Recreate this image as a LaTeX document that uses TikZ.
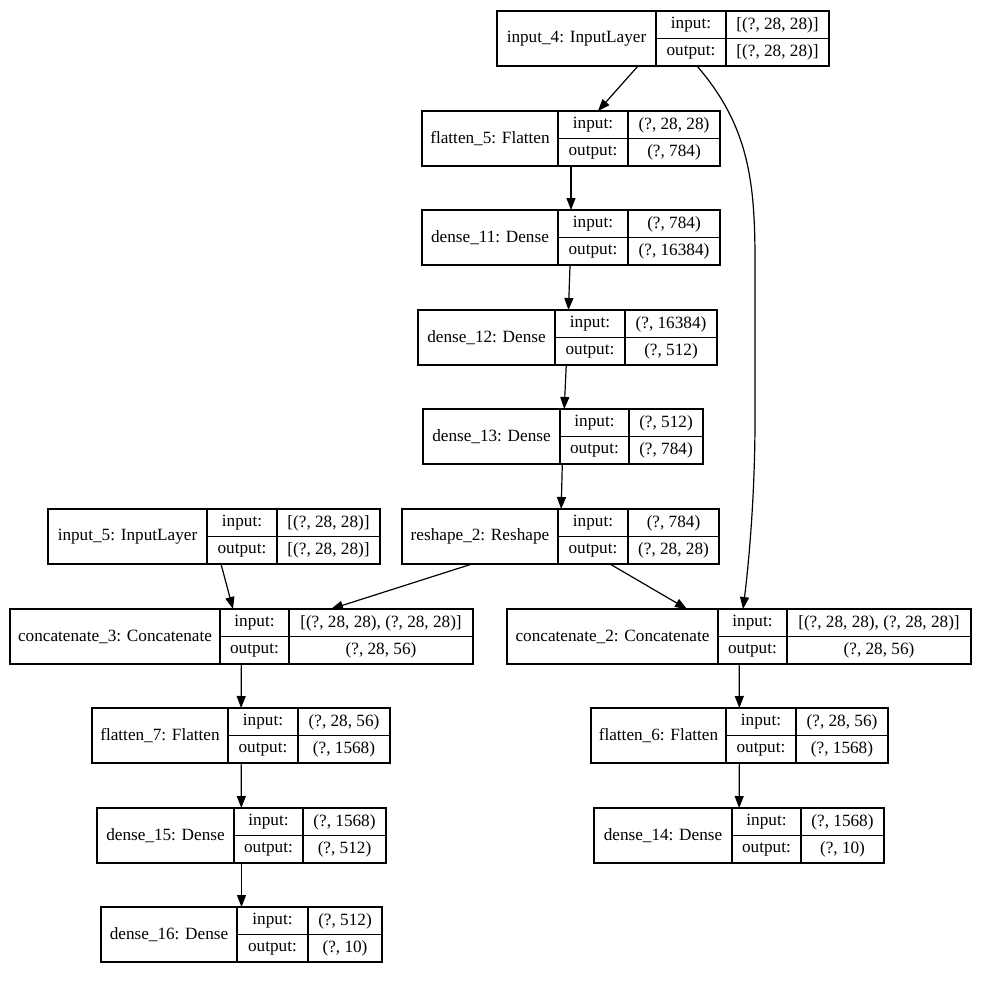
\documentclass[tikz,border=0pt]{standalone}
\usepackage{fontspec}
\setmainfont{Liberation Serif}
\usetikzlibrary{arrows.meta}

% one keras layer: id, left, split1, split2, right, top, name, input, output
\newcommand{\kerasnode}[9]{%
  \node[rec, minimum width={(#5-#2)*0.5pt}] (#1) at ({(#2+#5)/2},{#6+27.5}) {};
  \node (#1-name) at ({(#2+#3)/2},{#6+27.5}) {#7};
  \draw[thin line] (#3,#6) -- (#3,{#6+55}) (#4,#6) -- (#4,{#6+55})
    (#3,{#6+27.5}) -- (#5,{#6+27.5});
  \node (#1-il) at ({(#3+#4)/2},{#6+14}) {input:};
  \node (#1-ol) at ({(#3+#4)/2},{#6+41.5}) {output:};
  \node (#1-iv) at ({(#4+#5)/2},{#6+14}) {#8};
  \node (#1-ov) at ({(#4+#5)/2},{#6+41.5}) {#9};
}

\begin{document}
\begin{tikzpicture}[x=0.5pt, y=-0.5pt, font=\fontsize{8.6}{10}\selectfont,
  rec/.style = {draw, rectangle, inner sep=0pt, outer sep=0pt, minimum height=27.5pt, line width=0.6pt},
  thin line/.style = {line width=0.6pt},
  edge/.style = {line width=0.6pt, -{Triangle[length=6pt,width=4.5pt]}}]
  \useasboundingbox (0,0) rectangle (993,982);
  \kerasnode{in4}{497}{656}{726}{829}{11}{input\_4: InputLayer}{[(?, 28, 28)]}{[(?, 28, 28)]}
  \kerasnode{fl5}{422}{558}{628}{720}{111}{flatten\_5: Flatten}{(?, 28, 28)}{(?, 784)}
  \kerasnode{d11}{422}{558}{628}{720}{210}{dense\_11: Dense}{(?, 784)}{(?, 16384)}
  \kerasnode{d12}{418}{555}{625}{717}{310}{dense\_12: Dense}{(?, 16384)}{(?, 512)}
  \kerasnode{d13}{423}{560}{629}{703}{409}{dense\_13: Dense}{(?, 512)}{(?, 784)}
  \kerasnode{in5}{48}{207}{277}{380}{509}{input\_5: InputLayer}{[(?, 28, 28)]}{[(?, 28, 28)]}
  \kerasnode{rs2}{402}{558}{628}{719}{509}{reshape\_2: Reshape}{(?, 784)}{(?, 28, 28)}
  \kerasnode{cat3}{10}{220}{289}{473}{609}{concatenate\_3: Concatenate}{[(?, 28, 28), (?, 28, 28)]}{(?, 28, 56)}
  \kerasnode{cat2}{507}{718}{787}{971}{609}{concatenate\_2: Concatenate}{[(?, 28, 28), (?, 28, 28)]}{(?, 28, 56)}
  \kerasnode{fl7}{92}{228}{298}{390}{708}{flatten\_7: Flatten}{(?, 28, 56)}{(?, 1568)}
  \kerasnode{fl6}{591}{726}{796}{888}{708}{flatten\_6: Flatten}{(?, 28, 56)}{(?, 1568)}
  \kerasnode{d15}{97}{234}{303}{386}{808}{dense\_15: Dense}{(?, 1568)}{(?, 512)}
  \kerasnode{d14}{594}{732}{801}{884}{808}{dense\_14: Dense}{(?, 1568)}{(?, 10)}
  \kerasnode{d16}{101}{237}{308}{382}{907}{dense\_16: Dense}{(?, 512)}{(?, 10)}
  \draw[edge] ([xshift=-12.5pt]in4.south) -- ([xshift=13.5pt]fl5.north);
  \draw[edge] ([xshift=17pt]in4.south) .. controls (748,125) and (755,180) .. (755,260)
    -- (755,420) .. controls (755,500) and (748,570) .. ([xshift=2pt]cat2.north);
  \draw[edge] (fl5) -- (d11);
  \draw[edge] (d11) -- (d12);
  \draw[edge] (d12) -- (d13);
  \draw[edge] (d13) -- (rs2);
  \draw[edge] ([xshift=3.5pt]in5.south) -- ([xshift=-4.25pt]cat3.north);
  \draw[edge] ([xshift=-44.25pt]rs2.south) -- ([xshift=44.75pt]cat3.north);
  \draw[edge] ([xshift=24.75pt]rs2.south) -- ([xshift=-26pt]cat2.north);
  \draw[edge] (cat3) -- (fl7);
  \draw[edge] (fl7) -- (d15);
  \draw[edge] (d15) -- (d16);
  \draw[edge] (cat2) -- (fl6);
  \draw[edge] (fl6) -- (d14);
\end{tikzpicture}
\end{document}
